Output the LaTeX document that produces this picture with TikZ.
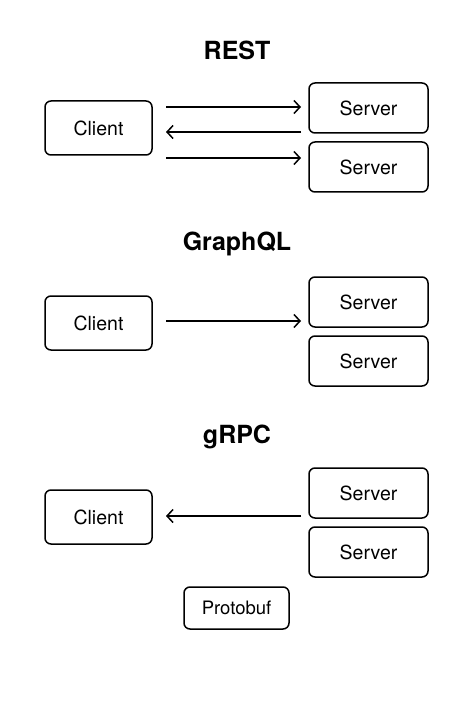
\documentclass[tikz,border=0pt]{standalone}
\usepackage{fontspec}
\setmainfont{TeX Gyre Heros}
\usetikzlibrary{arrows.meta}
\begin{document}
\begin{tikzpicture}[x=1pt,y=-1pt,
  box/.style={draw=black,line width=1.5pt,rounded corners=6pt,inner sep=0pt,font=\fontsize{19.5}{22}\selectfont},
  title/.style={font=\fontsize{25}{28}\selectfont\bfseries},
  conn/.style={line width=1.5pt,-{Straight Barb[length=6pt,width=13pt,line width=1.5pt]}}]
\useasboundingbox[fill=white] (0,0) rectangle (474,711);
% REST
\node[title] (t1) at (237,50) {REST};
\node[box,minimum width=107pt,minimum height=54pt] (c1) at (98.5,128) {Client};
\node[box,minimum width=119pt,minimum height=50pt] (s1a) at (368.5,108) {Server};
\node[box,minimum width=119pt,minimum height=50pt] (s1b) at (368.5,167) {Server};
\coordinate (a1s) at (166,107); \coordinate (a1e) at (301,107);
\coordinate (a2s) at (301,132); \coordinate (a2e) at (166,132);
\coordinate (a3s) at (166,158); \coordinate (a3e) at (301,158);
\draw[conn] (a1s) -- (a1e);
\draw[conn] (a2s) -- (a2e);
\draw[conn] (a3s) -- (a3e);
% GraphQL
\node[title] (t2) at (237,244) {GraphQL};
\node[box,minimum width=107pt,minimum height=54pt] (c2) at (98.5,323) {Client};
\node[box,minimum width=119pt,minimum height=50pt] (s2a) at (368.5,302) {Server};
\node[box,minimum width=119pt,minimum height=50pt] (s2b) at (368.5,361) {Server};
\coordinate (b1s) at (166,321); \coordinate (b1e) at (301,321);
\draw[conn] (b1s) -- (b1e);
% gRPC
\node[title] (t3) at (237,437) {gRPC};
\node[box,minimum width=107pt,minimum height=54pt] (c3) at (98.5,517) {Client};
\node[box,minimum width=119pt,minimum height=50pt] (s3a) at (368.5,493) {Server};
\node[box,minimum width=119pt,minimum height=50pt] (s3b) at (368.5,552) {Server};
\coordinate (g1s) at (301,516); \coordinate (g1e) at (166,516);
\draw[conn] (g1s) -- (g1e);
\node[box,minimum width=105pt,minimum height=42pt,font=\fontsize{18.5}{21}\selectfont] (pb) at (236.5,608) {Protobuf};
\end{tikzpicture}
\end{document}
